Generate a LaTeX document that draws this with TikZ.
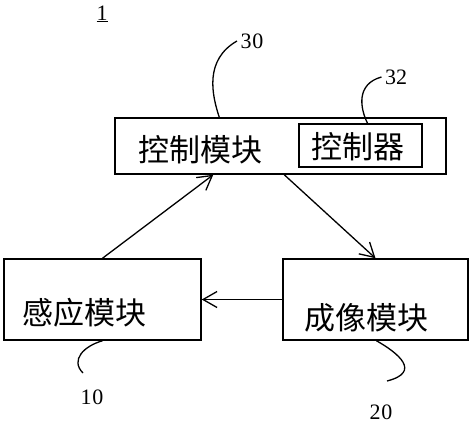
\documentclass[tikz,border=0pt]{standalone}
\usepackage{fontspec}
\setmainfont{Liberation Serif}
\newfontfamily\cjk{Noto Sans CJK SC}
\usetikzlibrary{arrows.meta,positioning}

\begin{document}
\begin{tikzpicture}[x=1pt,y=-1pt,
    >={Straight Barb[length=14pt,width=16pt]},
    box/.style={draw,line width=1.5pt,inner sep=0pt},
    txt/.style={font=\cjk\fontsize{31}{31}\selectfont},
    num/.style={font=\fontsize{22}{22}\selectfont}]
            \useasboundingbox (0,0) rectangle (474,424);
            % Nodes
            \node[box,minimum width=331pt,minimum height=56pt] (ctrl) at (280.5,146) {};
            \node[box,minimum width=123pt,minimum height=43pt] (ctl) at (360.5,145.5) {};
            \node[box,minimum width=197pt,minimum height=81pt] (sen) at (102.5,299.5) {};
            \node[box,minimum width=185pt,minimum height=81pt] (img) at (375.5,299.5) {};
            \node[txt] (ctrltxt) at (200,150) {控制模块};
            \node[txt] (ctltxt) at (358,147) {控制器};
            \node[txt] (sentxt) at (85,313) {感应模块};
            \node[txt] (imgtxt) at (366,318) {成像模块};
            % Numbers
            \node[num] (n1) at (102,14) {\underline{1}};
            \node[num] (n30) at (252,41) {3\kern1pt0};
            \node[num] (n32) at (396,77) {32};
            \node[num] (n10) at (92,397) {1\kern1pt0};
            \node[num] (n20) at (381,412) {2\kern1pt0};
            % Edges
            \draw[->,line width=1.3pt] (sen.north) -- ([xshift=99pt]ctrl.south west);
            \draw[->,line width=1.3pt] ([xshift=170pt]ctrl.south west) -- (img.north);
            \draw[->,line width=1.3pt] (img.west) -- (sen.east);
            % Leaders
            \draw[line width=1.3pt] ([xshift=105pt]ctrl.north west) .. controls (212,95) and (204,60) .. (n30.west);
            \draw[line width=1.3pt] ([xshift=7pt]ctl.north) .. controls (360,108) and (356,84) .. (n32.west);
            \draw[line width=1.3pt] (sen.south) .. controls (84,346) and (70,360) .. (83,373);
            \draw[line width=1.3pt] ([xshift=1pt]img.south) .. controls (398,353) and (422,372) .. (387,381);
        \end{tikzpicture}
\end{document}
